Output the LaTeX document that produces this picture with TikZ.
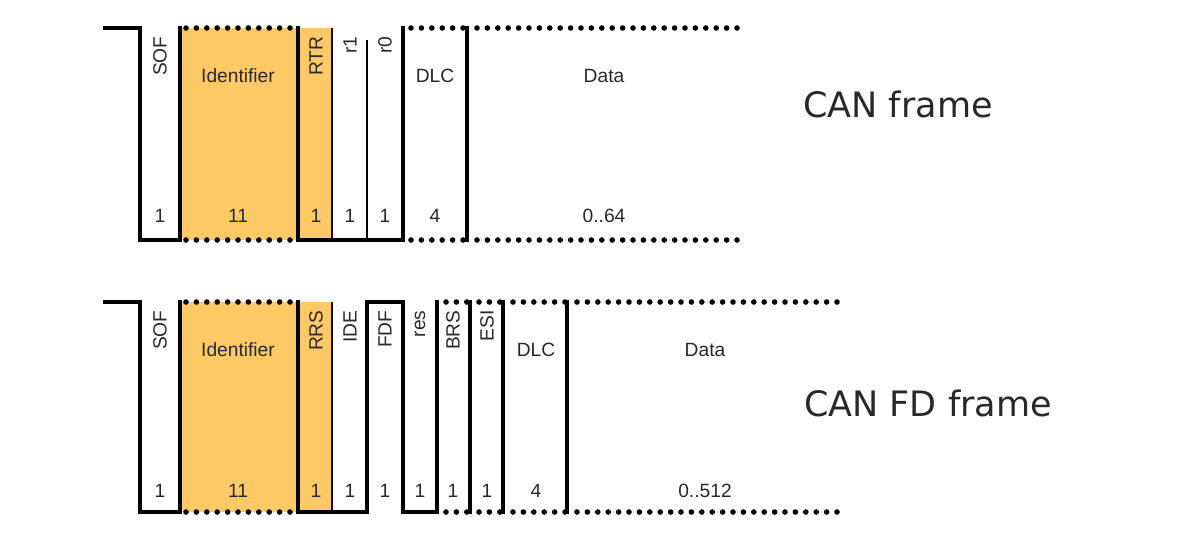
\documentclass[tikz,border=0pt]{standalone}
\usepackage{fontspec}
\setmainfont{Liberation Sans}
\newfontfamily\bigfont{DejaVu Sans}
\definecolor{org}{RGB}{255,202,102}
\definecolor{txt}{RGB}{40,40,40}
\begin{document}
\begin{tikzpicture}[x=0.5pt,y=-0.5pt,
  thk/.style={line width=2.4pt,line cap=rect},
  thn/.style={line width=0.7pt},
  dots/.style={line width=2.8pt,line cap=round,dash pattern=on 0pt off 5.2pt},
  lbl/.style={font=\fontsize{9.6}{11}\selectfont,inner sep=0pt,text=txt},
  rlbl/.style={lbl,rotate=90,anchor=east},
  big/.style={font=\bigfont\fontsize{17.5}{20}\selectfont,inner sep=0pt,text=txt}]
\useasboundingbox (0,0) rectangle (1183,543);
% ---- CAN frame ----
\fill[org] (180,28) rectangle (332,240);
\draw[thk] (105,28) -- (140,28) -- (140,240) -- (180,240) -- (180,28);
\draw[dots] (186,28) -- (298,28);
\draw[dots] (186,240) -- (298,240);
\draw[thk] (298,28) -- (298,240) -- (403,240) -- (403,28);
\draw[thn] (332,28) -- (332,240);
\draw[thn] (367,40) -- (367,240);
\draw[dots] (411,28) -- (467,28);
\draw[dots] (411,240) -- (467,240);
\draw[thk] (467,28) -- (467,240);
\draw[dots] (477,28) -- (745,28);
\draw[dots] (477,240) -- (745,240);
\node[rlbl] (a1) at (160,36) {SOF};
\node[lbl] (a2) at (238,76) {Identifier};
\node[rlbl] (a3) at (316,36) {RTR};
\node[rlbl] (a4) at (350,36) {r1};
\node[rlbl] (a5) at (385,36) {r0};
\node[lbl] (a6) at (435,76) {DLC};
\node[lbl] (a7) at (604,76) {Data};
\node[lbl] (n1) at (160,216) {1};
\node[lbl] (n2) at (238,216) {11};
\node[lbl] (n3) at (316,216) {1};
\node[lbl] (n4) at (350,216) {1};
\node[lbl] (n5) at (385,216) {1};
\node[lbl] (n6) at (435,216) {4};
\node[lbl] (n7) at (604,216) {0..64};
\node[big] (t1) at (898,104) {CAN frame};
% ---- CAN FD frame ----
\fill[org] (180,302) rectangle (332,512);
\draw[thk] (105,302) -- (140,302) -- (140,512) -- (180,512) -- (180,302);
\draw[dots] (186,302) -- (298,302);
\draw[dots] (186,512) -- (298,512);
\draw[thk] (298,302) -- (298,512) -- (367,512) -- (367,302) -- (403,302) -- (403,512) -- (437,512) -- (437,302);
\draw[thn] (332,302) -- (332,512);
\draw[dots] (446,302) -- (470,302);
\draw[dots] (446,512) -- (470,512);
\draw[thk] (470,302) -- (470,512);
\draw[dots] (479,302) -- (503,302);
\draw[dots] (479,512) -- (503,512);
\draw[thk] (503,302) -- (503,512);
\draw[dots] (513,302) -- (567,302);
\draw[dots] (513,512) -- (567,512);
\draw[thk] (567,302) -- (567,512);
\draw[dots] (577,302) -- (845,302);
\draw[dots] (577,512) -- (845,512);
\node[rlbl] (b1) at (160,310) {SOF};
\node[lbl] (b2) at (238,350) {Identifier};
\node[rlbl] (b3) at (316,310) {RRS};
\node[rlbl] (b4) at (350,310) {IDE};
\node[rlbl] (b5) at (385,310) {FDF};
\node[rlbl] (b6) at (420,310) {res};
\node[rlbl] (b7) at (453,310) {BRS};
\node[rlbl] (b8) at (487,310) {ESI};
\node[lbl] (b9) at (536,350) {DLC};
\node[lbl] (b10) at (705,350) {Data};
\node[lbl] (m1) at (160,491) {1};
\node[lbl] (m2) at (238,491) {11};
\node[lbl] (m3) at (316,491) {1};
\node[lbl] (m4) at (350,491) {1};
\node[lbl] (m5) at (385,491) {1};
\node[lbl] (m6) at (420,491) {1};
\node[lbl] (m7) at (453,491) {1};
\node[lbl] (m8) at (487,491) {1};
\node[lbl] (m9) at (536,491) {4};
\node[lbl] (m10) at (705,491) {0..512};
\node[big] (t2) at (928,403) {CAN FD frame};
\end{tikzpicture}
\end{document}
